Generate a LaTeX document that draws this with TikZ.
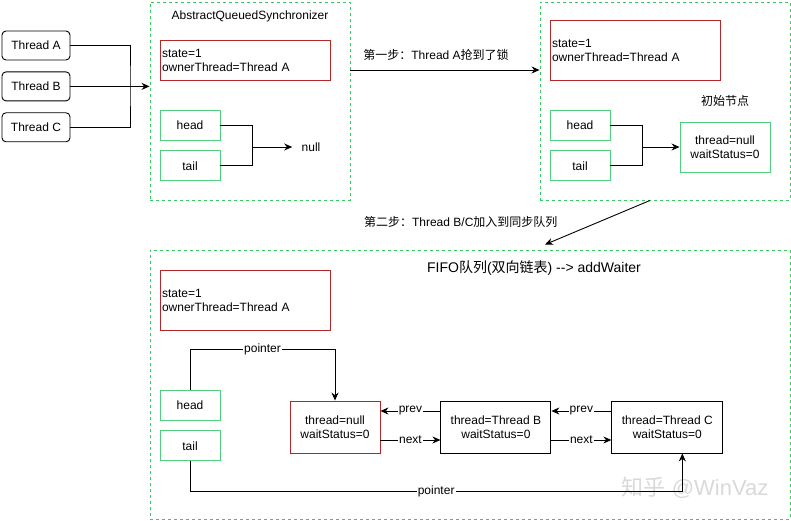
\documentclass[tikz,border=0pt]{standalone}
\usepackage{fontspec}
\setmainfont{Liberation Sans}
\newfontfamily\cjk{Noto Sans CJK SC}
\usetikzlibrary{arrows.meta, positioning}
\definecolor{boxgreen}{RGB}{80,205,125}
\definecolor{boxred}{RGB}{178,40,40}
\definecolor{dashgreen}{RGB}{60,200,100}
\tikzstyle{thread} = [
	rectangle, 
	rounded corners=4pt, 
	minimum width=68pt,
	minimum height=29pt, 
	text centered, 
	draw=black]
\tikzstyle{container} = [
	rectangle, 
	draw=dashgreen, 
	dash pattern=on 3pt off 3pt]
\tikzstyle{lockstate} = [
	rectangle, 
	text width=166pt, 
	inner xsep=2pt, 
	align=left, 
	draw=boxred]
\tikzstyle{pointer} = [
	rectangle, 
	minimum width=60pt, 
	minimum height=30pt,
	text centered, 
	draw=boxgreen]
\tikzstyle{qnode} = [
	rectangle, 
	minimum height=52pt, 
	align=center, 
	draw=black]
\tikzstyle{linklabel} = [fill=white, inner sep=1pt]
\tikzstyle{arrow} = [-{Stealth[length=8pt,width=7pt]}]

\begin{document}
\begin{tikzpicture}[x=1pt, y=-1pt, line width=0.9pt, font=\fontsize{12}{14}\selectfont]
\useasboundingbox (0,0) rectangle (791,521);

% --- Threads ---
\node (ta) [thread] at (36,45.5) {Thread A};
\node (tb) [thread, below=11pt of ta] {Thread B};
\node (tc) [thread, below=11pt of tb] {Thread C};
\coordinate (tj) at (130,85.5);

% --- AQS before ---
\node (aqs) [container, minimum width=200pt, minimum height=198pt] at (250,101) {};
\node (aqstitle) at (250,16) {AbstractQueuedSynchronizer};
\node (state1) [lockstate, minimum height=40pt] at (245,60) {state=1\\ownerThread=Thread A};
\node (head1) [pointer] at (190,125) {head};
\node (tail1) [pointer, below=10pt of head1] {tail};
\coordinate (j1) at (252,147);
\node (null) [inner sep=9pt] at (311,147) {null};

% --- AQS after step 1 ---
\node (aqs2) [container, minimum width=250pt, minimum height=198pt] at (665,101) {};
\node (state2) [lockstate, minimum height=60pt] at (635,50) {state=1\\ownerThread=Thread A};
\node (inittitle) at (725,101) {\cjk 初始节点};
\node (head2) [pointer] at (580,125) {head};
\node (tail2) [pointer, below=10pt of head2] {tail};
\coordinate (j2) at (642,147);
\node (init) [pointer, minimum width=90pt, minimum height=50pt, align=center] at (725,147) {thread=null\\waitStatus=0};

% --- FIFO queue ---
\node (fifo) [container, minimum width=640pt, minimum height=269pt] at (470,384.5) {};
\node (fifotitle) [font=\fontsize{14}{16}\selectfont] at (534,268) {FIFO{\cjk 队列}({\cjk 双向链表}) -{}-> addWaiter};
\node (state3) [lockstate, minimum height=60pt] at (245,300) {state=1\\ownerThread=Thread A};
\node (head3) [pointer] at (190,405) {head};
\node (tail3) [pointer, below=10pt of head3] {tail};
\node (n0) [qnode, draw=boxred, minimum width=90pt] at (335,427) {thread=null\\waitStatus=0};
\node (n1) [qnode, minimum width=110pt, right=60pt of n0] {thread=Thread B\\waitStatus=0};
\node (n2) [qnode, minimum width=111pt, right=60pt of n1] {thread=Thread C\\waitStatus=0};

\node (mark) [text=gray!30, font=\fontsize{22}{24}\selectfont] at (695,488) {{\cjk 知乎} @WinVaz};

% --- Arrows ---
\draw (ta.east) -| (tj) |- (tc.east);
\draw [arrow] (tb.east) -- (aqs.west |- tb);

\draw (head1.east) -| (j1);
\draw (tail1.east) -| (j1);
\draw [arrow] (j1) -- (null.west);

\draw [arrow] ([yshift=31pt]aqs.east) -- ([yshift=31pt]aqs2.west)
	node[midway, above=6pt, xshift=-9pt]{{\cjk 第一步：}Thread A{\cjk 抢到了锁}};

\draw (head2.east) -| (j2);
\draw (tail2.east) -| (j2);
\draw [arrow] (j2) -- (init.west);

\draw [arrow] ([xshift=-15pt]aqs2.south) -- ([xshift=75pt, yshift=5pt]fifo.north)
	node[pos=0.85, xshift=-100pt, yshift=16pt]{{\cjk 第二步：}Thread B/C{\cjk 加入到同步队列}};

\draw [arrow] (head3.north) -- ++(0,-40) -| (n0.north) node[linklabel, pos=0.25]{pointer};
\draw [arrow] (tail3.south) -- ++(0,30) -| ([xshift=15pt]n2.south) node[linklabel, pos=0.25]{pointer};

\draw [arrow] ([yshift=16pt]n1.west) -- node[linklabel]{prev} ([yshift=16pt]n0.east);
\draw [arrow] ([yshift=-13pt]n0.east) -- node[linklabel]{next} ([yshift=-13pt]n1.west);
\draw [arrow] ([yshift=16pt]n2.west) -- node[linklabel]{prev} ([yshift=16pt]n1.east);
\draw [arrow] ([yshift=-13pt]n1.east) -- node[linklabel]{next} ([yshift=-13pt]n2.west);

\end{tikzpicture}
\end{document}
